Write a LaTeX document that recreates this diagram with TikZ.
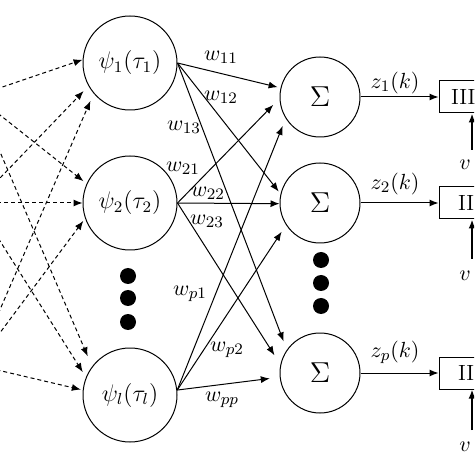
\documentclass[tikz,border=0pt]{standalone}
\usepackage{amsmath}
\usetikzlibrary{arrows.meta,positioning}

\begin{document}
\begin{tikzpicture}[
    x=0.5pt, y=-0.5pt,
    >={Latex[length=4.5pt,width=3.5pt]},
    every node/.style={font=\fontsize{11}{13}\selectfont},
    neuron/.style={circle, draw, line width=0.5pt, minimum size=47pt, inner sep=0pt, font=\fontsize{12}{14}\selectfont},
    adder/.style={circle, draw, line width=0.5pt, minimum size=40pt, inner sep=0pt, font=\fontsize{14.5}{16}\selectfont},
    filt/.style={rectangle, draw, line width=0.5pt, minimum height=16pt, inner xsep=6pt, text width=24pt, align=left},
    arrow/.style={->, line width=0.5pt},
    inarrow/.style={->, line width=0.5pt, dash pattern=on 2pt off 1.5pt},
    varrow/.style={->, line width=1.2pt},
    weight/.style={inner sep=0pt}
]
\useasboundingbox (0,0) rectangle (474,474);
\clip (0,0) rectangle (474,474);

% Wavelet neurons
\node[neuron] (psi1) at (130,63) {$\psi_1(\tau_1)$};
\node[neuron, below=22.5pt of psi1] (psi2) {$\psi_2(\tau_2)$};
\node[neuron, below=48.5pt of psi2] (psil) {$\psi_l(\tau_l)$};

% Summing nodes
\node[adder] (sig1) at (320,97) {$\Sigma$};
\node[adder, below=12.5pt of sig1] (sig2) {$\Sigma$};
\node[adder, below=44.5pt of sig2] (sigp) {$\Sigma$};

% Filters (cut at the right edge)
\node[filt, right=39pt of sig1] (f1) {III};
\node[filt, inner xsep=9.5pt, right=39pt of sig2] (f2) {II};
\node[filt, inner xsep=9.5pt, right=39pt of sigp] (fp) {II};

% Dots
\foreach \y in {276,298,322} \fill (128,\y) circle (4pt);
\foreach \y in {260,283,306} \fill (321,\y) circle (4pt);

% Inputs (outside the frame)
\coordinate (in1) at (-24,96);
\coordinate (in2) at (-24,203);
\coordinate (in3) at (-24,365);

% Input arrows
\draw[inarrow] (in1) -- (psi1.176);
\draw[inarrow, shorten >=3.5pt] (in2) -- (psi1.209);
\draw[inarrow, shorten >=4pt] (in3) -- (psi1.220);
\draw[inarrow, shorten >=2pt] (in1) -- (psi2.156);
\draw[inarrow] (in2) -- (psi2.180);
\draw[inarrow, shorten >=1.5pt] (in3) -- (psi2.199);
\draw[inarrow, shorten >=5.5pt] (in1) -- (psil.143);
\draw[inarrow, shorten >=3pt] (in2) -- (psil.158);
\draw[inarrow, shorten >=1pt] (in3) -- (psil.174);

% Weighted connections
\draw[arrow, shorten >=1.5pt] (psi1.east) -- (sig1.167);
\draw[arrow, shorten >=1.5pt] (psi1.east) -- (sig2.167);
\draw[arrow, shorten >=4.5pt] (psi1.east) -- (sigp.145);
\draw[arrow, shorten >=4.5pt] (psi2.east) -- (sig1.182);
\draw[arrow] (psi2.east) -- (sig2.181);
\draw[arrow, shorten >=5.5pt] (psi2.east) -- (sigp.168);
\draw[arrow, shorten >=4pt] (psil.6) -- (sig1.212);
\draw[arrow, shorten >=4pt] (psil.6) -- (sig2.213);
\draw[arrow, shorten >=5pt] (psil.6) -- (sigp.186);

% Weight labels
\node[weight] (w11) at (221,57) {$w_{11}$};
\node[weight] (w12) at (221,97) {$w_{12}$};
\node[weight] (w13) at (184,127) {$w_{13}$};
\node[weight] (w21) at (183,168) {$w_{21}$};
\node[weight] (w22) at (208,193) {$w_{22}$};
\node[weight] (w23) at (207,221) {$w_{23}$};
\node[weight] (wp1) at (190,294) {$w_{p1}$};
\node[weight] (wp2) at (227,350) {$w_{p2}$};
\node[weight] (wpp) at (222,400) {$w_{pp}$};

% Outputs
\draw[arrow] (sig1.east) -- (f1.west);
\draw[arrow] (sig2.east) -- (f2.west);
\draw[arrow] (sigp.east) -- (fp.west);
\node (z1) at (395,83) {$z_1(k)$};
\node (z2) at (395,184) {$z_2(k)$};
\node (zp) at (395,352) {$z_p(k)$};

% Second inputs of the filters
\node (v1) at (465,165) {$v$};
\node (v2) at (465,276) {$v$};
\node (vp) at (465,447) {$v$};
\coordinate (v1in) at (472,150);
\coordinate (v2in) at (472,259);
\coordinate (vpin) at (472,430);
\draw[varrow] (v1in) -- (v1in |- f1.south);
\draw[varrow] (v2in) -- (v2in |- f2.south);
\draw[varrow] (vpin) -- (vpin |- fp.south);

\end{tikzpicture}
\end{document}
